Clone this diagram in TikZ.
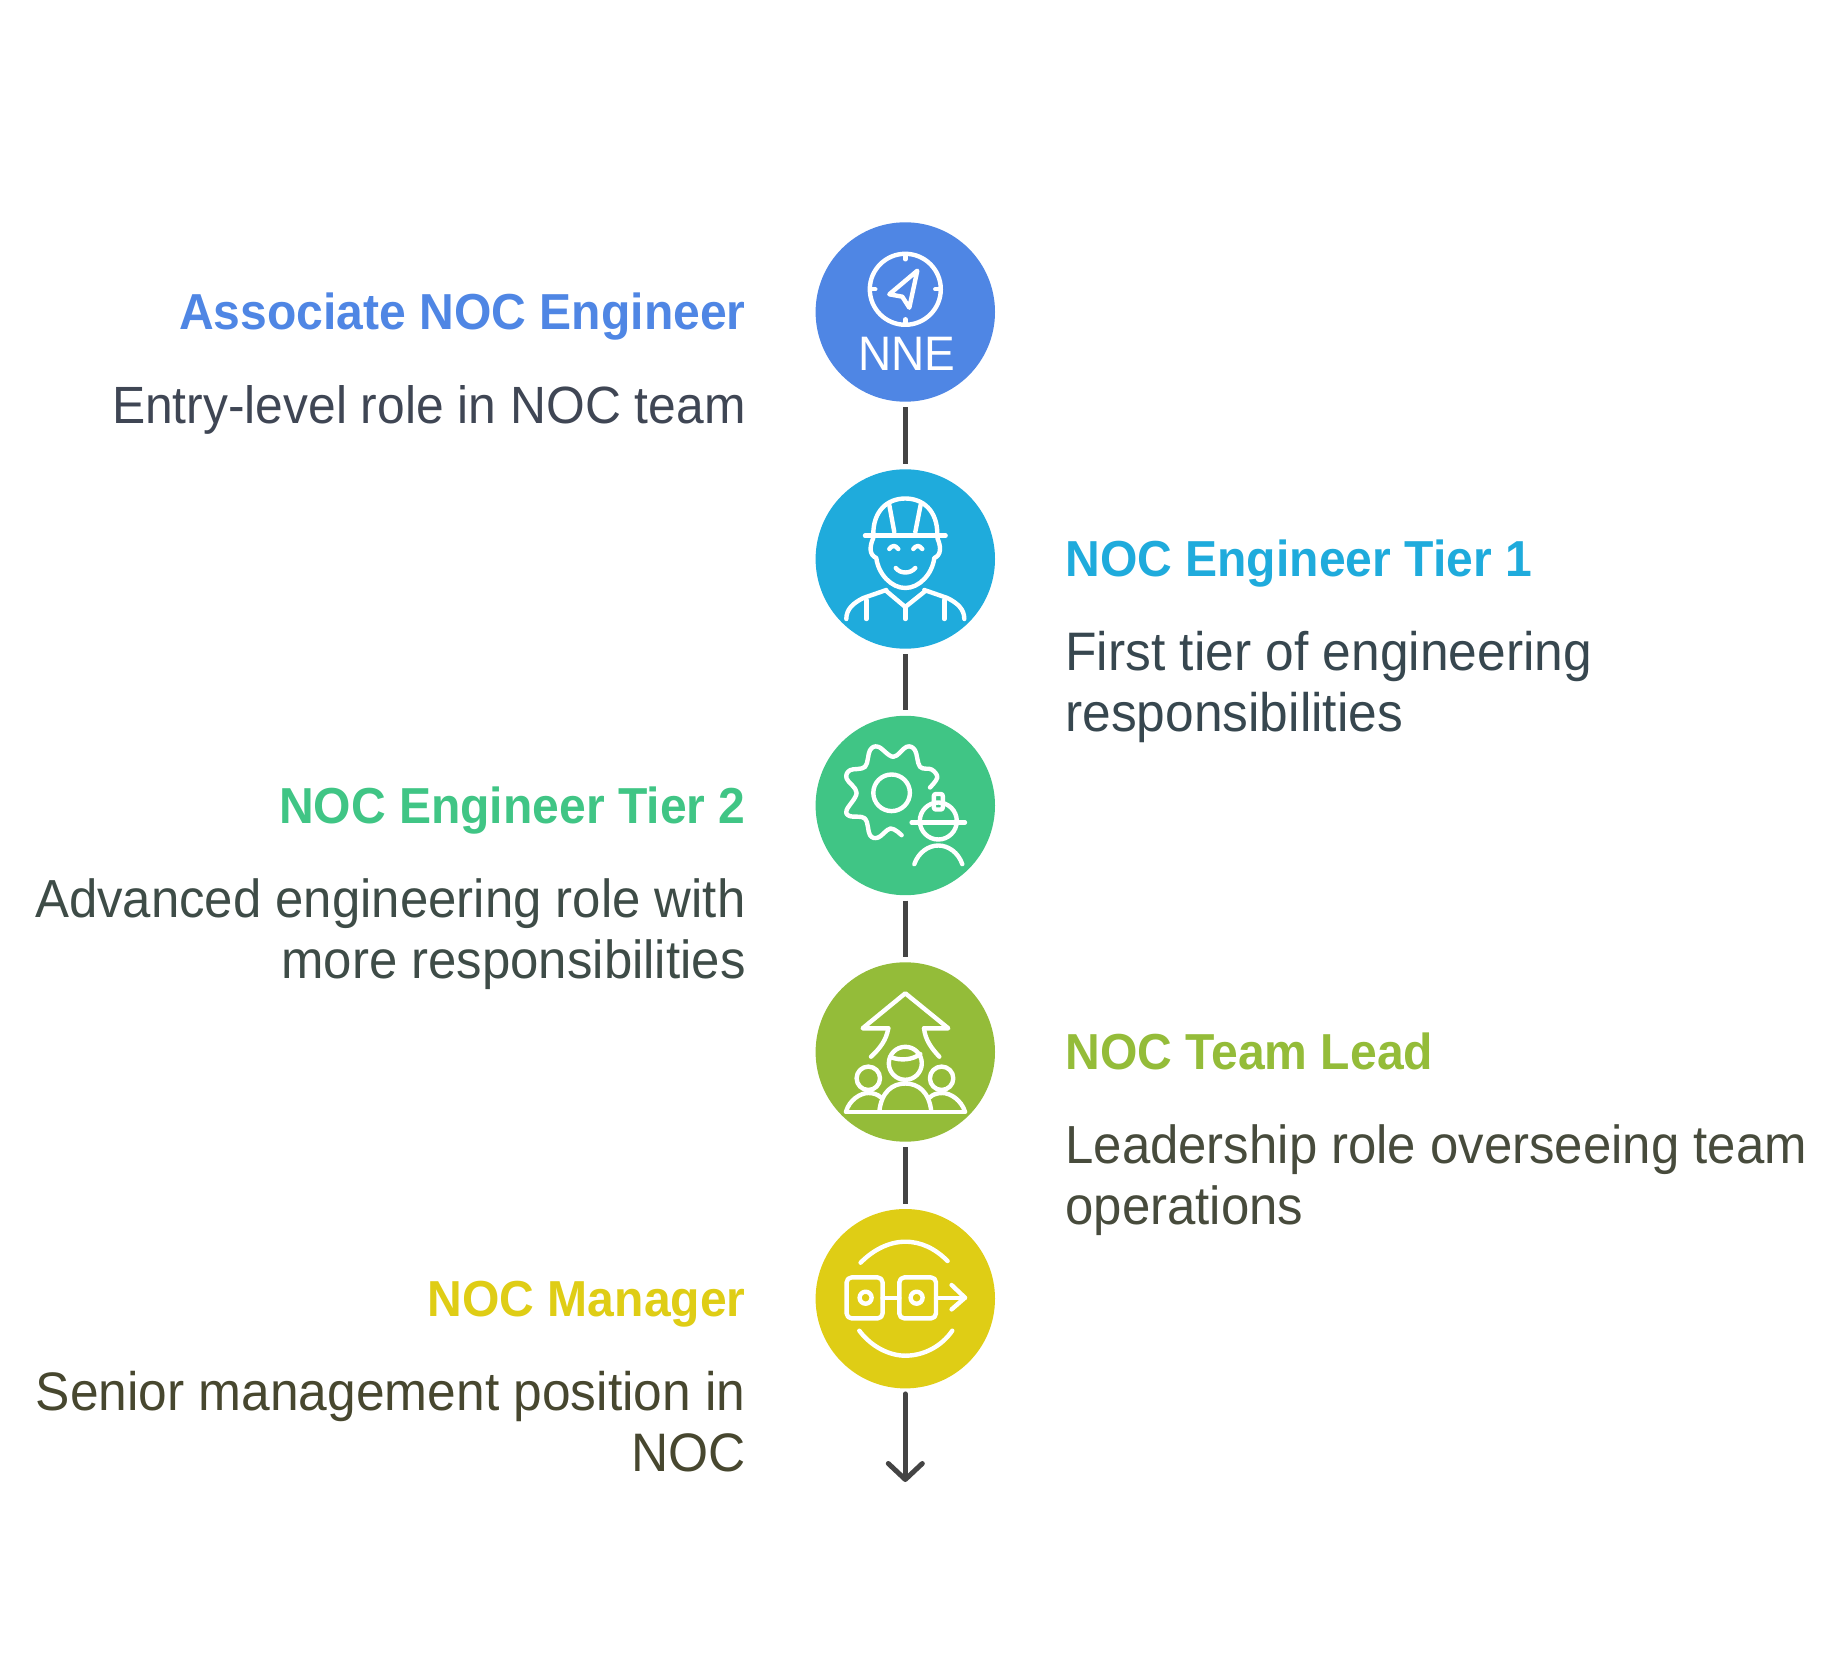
\documentclass[tikz,border=0pt]{standalone}
\usepackage{fontspec}
\usepackage{xcolor}
\setmainfont[FakeStretch=0.95]{Liberation Sans}
\usetikzlibrary{arrows.meta}

\definecolor{nocblue}{HTML}{4F86E4}
\definecolor{noccyan}{HTML}{1FABDC}
\definecolor{nocgreen}{HTML}{40C585}
\definecolor{nocolive}{HTML}{94BC39}
\definecolor{nocyellow}{HTML}{DFCD15}
\definecolor{linegray}{HTML}{444444}
\definecolor{descblue}{HTML}{3F4654}
\definecolor{desccyan}{HTML}{37474F}
\definecolor{descgreen}{HTML}{3E4C47}
\definecolor{descolive}{HTML}{474B3C}
\definecolor{descyellow}{HTML}{47472F}

\begin{document}
\begin{tikzpicture}[
    x=0.5pt, y=-0.5pt,
    stage/.style={circle, fill=#1, minimum size=89.7pt, inner sep=0pt, outer sep=2.75pt},
    title/.style={font=\fontsize{25.3}{30.5}\selectfont\bfseries, text=#1, inner sep=0pt},
    desc/.style={font=\fontsize{26.8}{30.5}\selectfont, text=#1, inner sep=0pt},
    link/.style={line width=2.5pt, color=linegray},
    icon/.style={white, line width=2.2pt, line cap=round, line join=round}
]
\useasboundingbox (0,0) rectangle (1842,1663);

% Stages
\node[stage=nocblue] (c1) at (905.3,312) {};
\node[stage=noccyan] (c2) at (905.3,559) {};
\node[stage=nocgreen] (c3) at (905.3,805.5) {};
\node[stage=nocolive] (c4) at (905.3,1052) {};
\node[stage=nocyellow] (c5) at (905.3,1298.7) {};
\coordinate (end) at (905.3,1482);

% Titles
\node[title=nocblue, anchor=base east] (t1) at (746,330) {Associate NOC Engineer};
\node[title=noccyan, anchor=base west] (t2) at (1065,577) {NOC Engineer Tier 1};
\node[title=nocgreen, anchor=base east] (t3) at (746,823) {NOC Engineer Tier 2};
\node[title=nocolive, anchor=base west] (t4) at (1065,1069) {NOC Team Lead};
\node[title=nocyellow, anchor=base east] (t5) at (746,1316) {NOC Manager};

% Descriptions
\node[desc=descblue, font=\fontsize{26.2}{30.5}\selectfont, anchor=base east] (d1) at (746,424) {Entry-level role in NOC team};
\node[desc=desccyan, font=\fontsize{27.1}{30.5}\selectfont, anchor=base west, align=left] (d2) at (1065,731) {First tier of engineering\\responsibilities};
\node[desc=descgreen, anchor=base east, align=right] (d3) at (746,978) {Advanced engineering role with\\more responsibilities};
\node[desc=descolive, anchor=base west, align=left] (d4) at (1065,1224) {Leadership role overseeing team\\operations};
\node[desc=descyellow, font=\fontsize{27.1}{30.5}\selectfont, anchor=base east, align=right] (d5) at (746,1471) {Senior management position in\\NOC};

% Links
\draw[link] (c1) -- (c2);
\draw[link] (c2) -- (c3);
\draw[link] (c3) -- (c4);
\draw[link] (c4) -- (c5);
\draw[link, line cap=round, -{Straight Barb[length=8pt,width=17pt,round]}] (c5) -- (end);

% Compass icon
\begin{scope}[shift={(c1.center)}, icon]
\draw (0,-22.7) circle[radius=35.5];
\foreach \a in {0,90,180,270}
  \draw[shift={(0,-22.7)}, rotate=\a] (0,-35) -- (0,-30);
\draw (12,-41.3) -- (-16,-17.7) -- (-3,-15.3) -- (4,-4.3) -- cycle;
\node[font=\fontsize{24.2}{24}\selectfont, text=white, inner sep=0pt, anchor=base] (nne) at (1.5,59) {NNE};
\end{scope}

% Worker icon
\begin{scope}[shift={(c2.center)}, icon]
\draw (-40.3,-23.3) -- (40.3,-23.3);
\draw (-32,-25) .. controls (-32,-48) and (-18,-60.5) .. (0,-60.5) .. controls (18,-60.5) and (32,-48) .. (32,-25);
\draw (-16,-54) -- (-11,-27);
\draw (15.3,-54) -- (10,-27);
\draw (-32,-21) .. controls (-36,-12) and (-36,-4) .. (-29,-1) .. controls (-27,15) and (-14,29) .. (0,29)
  .. controls (14,29) and (27,15) .. (29,-1) .. controls (36,-4) and (36,-12) .. (32,-21);
\draw (-16,-10) .. controls (-13,-14) and (-10,-14) .. (-7,-10);
\draw (8,-10) .. controls (11,-14) and (14,-14) .. (17,-10);
\draw (-9.5,9) .. controls (-5,15) and (5,15) .. (10,9);
\draw (-19,31) -- (-42,39) .. controls (-52,44) and (-59,50) .. (-59,60);
\draw (19,31) -- (42,39) .. controls (52,44) and (59,50) .. (59,60);
\draw (-19,32) -- (0,48) -- (20,32);
\draw (0,48) -- (0,60);
\draw (-39,41) -- (-39,60);
\draw (39,41) -- (39,60);
\end{scope}

% Gear icon
\begin{scope}[shift={(c3.center)}, icon]
\draw (-13.7,-12.7) circle[radius=18.3];
\draw plot[smooth, tension=0.6] coordinates {(24.7,-18) (32,-28) (26.3,-36) (14.7,-38.7) (9.7,-55.3) (1.3,-58.7) (-12,-48.7) (-27,-58.7) (-35.3,-55.3) (-40.3,-38.7) (-55.3,-35.3) (-58.7,-27) (-48.7,-12.7) (-58.7,4.7) (-55.3,10.7) (-40.3,13) (-35.3,29.7) (-27,32) (-14.7,23) (-3.7,29.7)};
\draw (33,15.5) circle[radius=18.5];
\draw (6.3,17) -- (59.7,17);
\draw[rounded corners=1pt] (28.5,-11.5) rectangle (37.5,4);
\draw (9,58.7) .. controls (13,47) and (23,40) .. (33,40) .. controls (43,40) and (53,47) .. (57,58.7);
\end{scope}

% Team icon
\begin{scope}[shift={(c4.center)}, icon]
\draw (-17,-23.7) -- (-42.7,-23.7) -- (0,-58.7) -- (43,-23.7) -- (18.7,-23.7);
\draw (-17,-23.7) .. controls (-19,-12) and (-25,-4) .. (-34.3,4.7);
\draw (18.7,-23.7) .. controls (20,-12) and (26,-4) .. (34,4.7);
\draw (0,11.3) circle[radius=16.5];
\draw (-15,5) .. controls (-5,9) and (7,8) .. (15,2);
\draw (-37,26.3) circle[radius=11.7];
\draw (36.3,26.3) circle[radius=11.7];
\draw (-59.3,59.7) -- (59.7,59.7);
\draw (-26,59.7) .. controls (-24,40) and (-13,31.5) .. (0,31.5) .. controls (13,31.5) and (24,40) .. (26,59.7);
\draw (-59.3,59.7) .. controls (-56,48) and (-45,41) .. (-37,41) .. controls (-31,41) and (-27,43) .. (-25,45);
\draw (59.7,59.7) .. controls (56,48) and (45,41) .. (37,41) .. controls (31,41) and (27,43) .. (25,45);
\end{scope}

% Handover icon
\begin{scope}[shift={(c5.center)}, icon]
\draw (-44.7,-36) .. controls (-32,-49) and (-16,-57) .. (0,-57) .. controls (16,-57) and (30,-50) .. (42.3,-37.7);
\draw (-46,32) .. controls (-34,48) and (-16,57) .. (0,57) .. controls (18,57) and (36,48) .. (47,32);
\draw[rounded corners=2.5pt] (-58.7,-21.3) rectangle (-22.7,19.7);
\draw[rounded corners=2.5pt] (-6,-21.3) rectangle (30.7,19.7);
\draw (-39.7,-1) circle[radius=6];
\draw (11.3,-1) circle[radius=6];
\draw (-22.7,-1) -- (-6,-1);
\draw (30.7,-1) -- (59.7,-1);
\draw (46.3,-13.7) -- (59.7,-1) -- (46.3,10.7);
\end{scope}

\end{tikzpicture}
\end{document}
